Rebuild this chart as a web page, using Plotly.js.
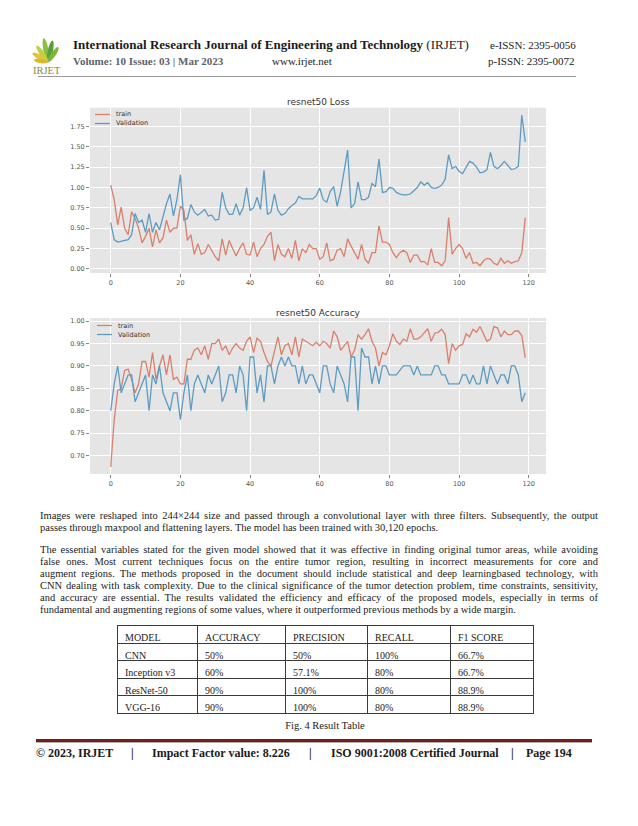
<!DOCTYPE html>
<html>
<head>
<meta charset="utf-8">
<script src="https://cdn.plot.ly/plotly-3.0.1.min.js"></script>
<style>
  html,body{margin:0;padding:0;background:#fff;}
  #wrap{position:relative;width:638px;height:826px;overflow:hidden;background:#fff;}
  #fig{position:absolute;left:0;top:0;width:638px;height:826px;}
  .t{position:absolute;white-space:nowrap;font-family:"Liberation Serif",serif;color:#1b1b1b;z-index:5;}
  .jl{position:absolute;left:40px;width:558px;white-space:nowrap;font-family:"Liberation Serif",serif;font-size:10.5px;line-height:12px;color:#1b1b1b;text-align:justify;text-align-last:justify;z-index:5;}
  .last{text-align-last:left;}
</style>
</head>
<body>
<div id="wrap">
  <div id="fig"></div>

  <!-- header -->
  <svg style="position:absolute;left:30px;top:28px;z-index:5" width="42" height="50" viewBox="0 0 42 50">
    <g transform="translate(18,34)">
      <ellipse cx="0" cy="-12" rx="2.6" ry="12" fill="#8cbf3f" transform="rotate(-10)"/>
      <ellipse cx="0" cy="-11" rx="2.6" ry="11" fill="#5aa03a" transform="rotate(12)"/>
      <ellipse cx="0" cy="-10" rx="2.4" ry="10" fill="#b9d24a" transform="rotate(-35)"/>
      <ellipse cx="0" cy="-9" rx="2.4" ry="9" fill="#e2c53a" transform="rotate(-60)"/>
      <ellipse cx="0" cy="-9" rx="2.4" ry="9" fill="#7fb43e" transform="rotate(35)"/>
      <ellipse cx="0" cy="-7" rx="2.2" ry="7" fill="#d8b92f" transform="rotate(-82)"/>
    </g>
    <text x="3" y="46" font-family="Liberation Serif" font-size="10.5" fill="#8b8a3c">IRJET</text>
  </svg>
  <div class="t" style="left:73px;top:37px;font-size:13px;"><b>International Research Journal of Engineering and Technology</b> (IRJET)</div>
  <div class="t" style="left:490px;top:39px;font-size:11px;">e-ISSN: 2395-0056</div>
  <div class="t" style="left:73px;top:55px;font-size:11px;color:#5d6468;font-weight:bold;">Volume: 10 Issue: 03 | Mar 2023</div>
  <div class="t" style="left:272px;top:55px;font-size:11px;">www.irjet.net</div>
  <div class="t" style="left:488px;top:55px;font-size:11px;">p-ISSN: 2395-0072</div>
  <div style="position:absolute;left:38px;top:76px;width:538px;height:1px;background:#9a9a9a;z-index:5"></div>

  <!-- body text -->
  <div class="jl" style="top:510px;">Images were reshaped into 244×244 size and passed through a convolutional layer with three filters. Subsequently, the output</div>
  <div class="jl last" style="top:522px;">passes through maxpool and flattening layers. The model has been trained with 30,120 epochs.</div>

  <div class="jl" style="top:544px;">The essential variables stated for the given model showed that it was effective in finding original tumor areas, while avoiding</div>
  <div class="jl" style="top:556px;">false ones. Most current techniques focus on the entire tumor region, resulting in incorrect measurements for core and</div>
  <div class="jl" style="top:568px;">augment regions. The methods proposed in the document should include statistical and deep learningbased technology, with</div>
  <div class="jl" style="top:580px;">CNN dealing with task complexity. Due to the clinical significance of the tumor detection problem, time constraints, sensitivity,</div>
  <div class="jl" style="top:592px;">and accuracy are essential. The results validated the efficiency and efficacy of the proposed models, especially in terms of</div>
  <div class="jl last" style="top:604px;">fundamental and augmenting regions of some values, where it outperformed previous methods by a wide margin.</div>

  <div class="t" style="left:0;width:650px;text-align:center;top:720px;font-size:10.5px;">Fig. 4 Result Table</div>

  <!-- footer -->
  <div style="position:absolute;left:36px;top:739px;width:556px;height:3px;background:#6e1f1f;z-index:5"></div>
  <div style="position:absolute;left:36px;top:742px;width:556px;height:1px;background:#b9a9a9;z-index:5"></div>
  <div class="t" style="left:36px;top:746px;font-size:12px;font-weight:bold;">© 2023, IRJET</div>
  <div class="t" style="left:131px;top:746px;font-size:12px;font-weight:bold;">|</div>
  <div class="t" style="left:152px;top:746px;font-size:12px;font-weight:bold;">Impact Factor value: 8.226</div>
  <div class="t" style="left:309px;top:746px;font-size:12px;font-weight:bold;">|</div>
  <div class="t" style="left:331px;top:746px;font-size:12px;font-weight:bold;">ISO 9001:2008 Certified Journal</div>
  <div class="t" style="left:511px;top:746px;font-size:12px;font-weight:bold;">|</div>
  <div class="t" style="left:526px;top:746px;font-size:12px;font-weight:bold;">Page 194</div>
</div>

<script>
// ---------------- data ----------------
const epochs = Array.from({length:120}, (_, i) => i);

const lossTrain = [1.03,0.85,0.54,0.76,0.50,0.42,0.70,0.62,0.50,0.32,
  0.40,0.50,0.27,0.48,0.32,0.38,0.60,0.45,0.50,0.50,
  0.77,0.72,0.35,0.42,0.18,0.31,0.18,0.20,0.30,0.22,
  0.15,0.10,0.37,0.17,0.35,0.25,0.16,0.25,0.32,0.18,
  0.17,0.33,0.15,0.25,0.30,0.40,0.45,0.10,0.30,0.18,
  0.15,0.25,0.13,0.35,0.10,0.25,0.20,0.30,0.25,0.25,
  0.12,0.15,0.32,0.10,0.12,0.23,0.25,0.15,0.37,0.28,
  0.20,0.12,0.30,0.12,0.07,0.20,0.20,0.53,0.33,0.33,
  0.30,0.20,0.14,0.20,0.23,0.20,0.08,0.17,0.17,0.09,
  0.09,0.05,0.25,0.08,0.08,0.04,0.10,0.63,0.18,0.25,
  0.30,0.25,0.13,0.20,0.07,0.08,0.04,0.10,0.13,0.12,
  0.07,0.05,0.13,0.07,0.10,0.07,0.09,0.10,0.20,0.63];

const lossVal = [0.57,0.36,0.33,0.34,0.35,0.36,0.42,0.68,0.57,0.60,
  0.45,0.68,0.45,0.57,0.48,0.65,0.80,0.92,0.65,0.85,
  1.16,0.60,0.62,0.79,0.70,0.66,0.70,0.73,0.65,0.66,
  0.60,0.61,0.94,0.75,0.67,0.67,0.80,0.66,0.75,1.00,
  0.72,0.75,0.88,0.73,1.21,0.67,0.70,0.92,0.72,0.66,
  0.68,0.74,0.78,0.81,0.89,0.86,0.86,0.86,0.86,0.90,
  0.99,0.85,0.82,0.95,1.01,0.77,0.95,1.20,1.46,0.75,
  0.80,1.07,0.85,0.85,0.88,1.05,1.01,1.35,0.94,0.95,
  1.00,0.99,0.94,0.92,0.91,0.91,0.92,0.96,1.00,1.07,
  1.03,1.06,1.00,0.99,1.00,1.03,1.10,1.40,1.23,1.26,
  1.20,1.17,1.25,1.32,1.30,1.25,1.18,1.19,1.22,1.43,
  1.26,1.23,1.27,1.32,1.27,1.22,1.23,1.26,1.89,1.56];

const accTrain = [0.675,0.78,0.845,0.85,0.89,0.893,0.87,0.84,0.86,0.91,
  0.91,0.875,0.93,0.87,0.90,0.925,0.88,0.925,0.87,0.875,
  0.86,0.86,0.915,0.915,0.935,0.94,0.925,0.945,0.915,0.95,
  0.95,0.96,0.935,0.945,0.925,0.94,0.95,0.94,0.935,0.955,
  0.965,0.93,0.962,0.955,0.93,0.91,0.90,0.93,0.965,0.925,
  0.945,0.95,0.925,0.965,0.92,0.96,0.955,0.95,0.945,0.953,
  0.945,0.955,0.95,0.94,0.978,0.965,0.935,0.945,0.955,0.92,
  0.935,0.97,0.96,0.97,0.983,0.955,0.94,0.90,0.93,0.925,
  0.945,0.972,0.955,0.948,0.96,0.955,0.983,0.96,0.96,0.965,
  0.975,0.983,0.955,0.973,0.975,0.982,0.97,0.905,0.95,0.935,
  0.945,0.948,0.972,0.965,0.982,0.975,0.988,0.97,0.955,0.96,
  0.988,0.985,0.965,0.978,0.97,0.97,0.978,0.978,0.968,0.918];

const accVal = [0.80,0.86,0.90,0.84,0.86,0.88,0.88,0.82,0.84,0.86,
  0.88,0.80,0.88,0.86,0.90,0.84,0.82,0.80,0.84,0.84,
  0.78,0.84,0.88,0.80,0.86,0.88,0.86,0.84,0.88,0.86,
  0.88,0.90,0.82,0.84,0.88,0.88,0.84,0.90,0.88,0.80,
  0.92,0.92,0.84,0.88,0.82,0.90,0.90,0.86,0.90,0.92,
  0.90,0.92,0.90,0.90,0.86,0.90,0.86,0.88,0.88,0.86,
  0.84,0.90,0.90,0.86,0.84,0.90,0.88,0.86,0.82,0.92,
  0.92,0.80,0.94,0.92,0.92,0.86,0.90,0.86,0.90,0.90,
  0.88,0.88,0.88,0.89,0.90,0.90,0.90,0.88,0.90,0.88,
  0.88,0.88,0.88,0.90,0.90,0.88,0.88,0.86,0.86,0.86,
  0.86,0.88,0.88,0.86,0.88,0.86,0.86,0.90,0.86,0.90,
  0.88,0.86,0.88,0.88,0.86,0.90,0.90,0.88,0.82,0.84];

const xTicks = [0,20,40,60,80,100,120];
const lossTicks = [0.00,0.25,0.50,0.75,1.00,1.25,1.50,1.75];
const accTicks = [0.70,0.75,0.80,0.85,0.90,0.95,1.00];
const seriesNames = ['train','Validation'];
const chartTitles = ['resnet50 Loss','resnet50 Accuracy'];

const tableHeader = ['MODEL','ACCURACY','PRECISION','RECALL','F1 SCORE'];
const models = ['CNN','Inception v3','ResNet-50','VGG-16'];
const accuracy = ['50%','60%','90%','90%'];
const precision = ['50%','57.1%','100%','100%'];
const recall = ['100%','80%','80%','80%'];
const f1score = ['66.7%','66.7%','88.9%','88.9%'];

// ---------------- layout helpers ----------------
const W = 638, H = 826;
const px = x => x / W;
const py = y => 1 - y / H;
const cTrain = '#DB7F6B', cVal = '#5C9CC3';
const tickFont = {family:'DejaVu Sans', size:6.5, color:'#555'};

const axX = (anchor) => ({
  domain:[px(90), px(546)], range:[-5.95,124.95], anchor:anchor,
  tickvals:xTicks, ticks:'outside', ticklen:3, tickwidth:0.8, tickcolor:'#666',
  showgrid:true, gridcolor:'#ffffff', gridwidth:1, zeroline:false, showline:false,
  tickfont:tickFont, fixedrange:true
});
const axY = (anchor, dom, rng, tv) => ({
  domain:dom, range:rng, anchor:anchor, tickvals:tv, tickformat:'.2f',
  ticks:'outside', ticklen:3, tickwidth:0.8, tickcolor:'#666',
  showgrid:true, gridcolor:'#ffffff', gridwidth:1, zeroline:false, showline:false,
  tickfont:tickFont, fixedrange:true
});

const line = (c) => ({color:c, width:1.3});
const traces = [
  {x:epochs, y:lossTrain, name:seriesNames[0], type:'scatter', mode:'lines', line:line(cTrain), xaxis:'x', yaxis:'y'},
  {x:epochs, y:lossVal, name:seriesNames[1], type:'scatter', mode:'lines', line:line(cVal), xaxis:'x', yaxis:'y'},
  {x:epochs, y:accTrain, name:seriesNames[0], type:'scatter', mode:'lines', line:line(cTrain), xaxis:'x2', yaxis:'y2'},
  {x:epochs, y:accVal, name:seriesNames[1], type:'scatter', mode:'lines', line:line(cVal), xaxis:'x2', yaxis:'y2'},
  {
    type:'table',
    domain:{x:[px(117), px(533)], y:[py(724), py(625)]},
    columnwidth:[80,88,82,83,83],
    header:{values:tableHeader, align:'left', height:18,
      line:{color:'#3a3a3a', width:1}, fill:{color:'#ffffff'},
      font:{family:'Liberation Serif', size:10, color:'#1b1b1b'}},
    cells:{values:[models, accuracy, precision, recall, f1score], align:'left', height:17.5,
      line:{color:'#3a3a3a', width:1}, fill:{color:'#ffffff'},
      font:{family:'Liberation Serif', size:10, color:'#1b1b1b'}}
  }
];

// manual legends (matplotlib style, upper left)
function legend(yTop, xLine) {
  return [
    {type:'line', xref:'paper', yref:'paper', x0:px(xLine), x1:px(xLine+15), y0:py(yTop), y1:py(yTop), line:{color:cTrain, width:1.3}},
    {type:'line', xref:'paper', yref:'paper', x0:px(xLine), x1:px(xLine+15), y0:py(yTop+9), y1:py(yTop+9), line:{color:cVal, width:1.3}}
  ];
}
function legendText(yTop, xText) {
  return seriesNames.map((n, i) => ({
    text:n, xref:'paper', yref:'paper', x:px(xText), y:py(yTop + 9*i), xanchor:'left', yanchor:'middle',
    showarrow:false, font:{family:'DejaVu Sans', size:6.5, color:'#333'}
  }));
}

const layout = {
  width:W, height:H, margin:{l:0,r:0,t:0,b:0},
  paper_bgcolor:'#ffffff', plot_bgcolor:'#E5E5E5', showlegend:false,
  xaxis:axX('y'),
  yaxis:axY('x', [py(273), py(107.7)], [-0.05,1.98], lossTicks),
  xaxis2:axX('y2'),
  yaxis2:axY('x2', [py(474), py(318)], [0.659,1.007], accTicks),
  shapes:[...legend(114.5, 95), ...legend(325.5, 97)],
  annotations:[
    {text:chartTitles[0], xref:'paper', yref:'paper', x:px(318), y:py(102), xanchor:'center', yanchor:'middle', showarrow:false,
      font:{family:'DejaVu Sans', size:9, color:'#333'}},
    {text:chartTitles[1], xref:'paper', yref:'paper', x:px(318), y:py(313), xanchor:'center', yanchor:'middle', showarrow:false,
      font:{family:'DejaVu Sans', size:9, color:'#333'}},
    ...legendText(114.5, 114), ...legendText(325.5, 116)
  ]
};

Plotly.newPlot('fig', traces, layout, {staticPlot:true, displayModeBar:false});
</script>
</body>
</html>
